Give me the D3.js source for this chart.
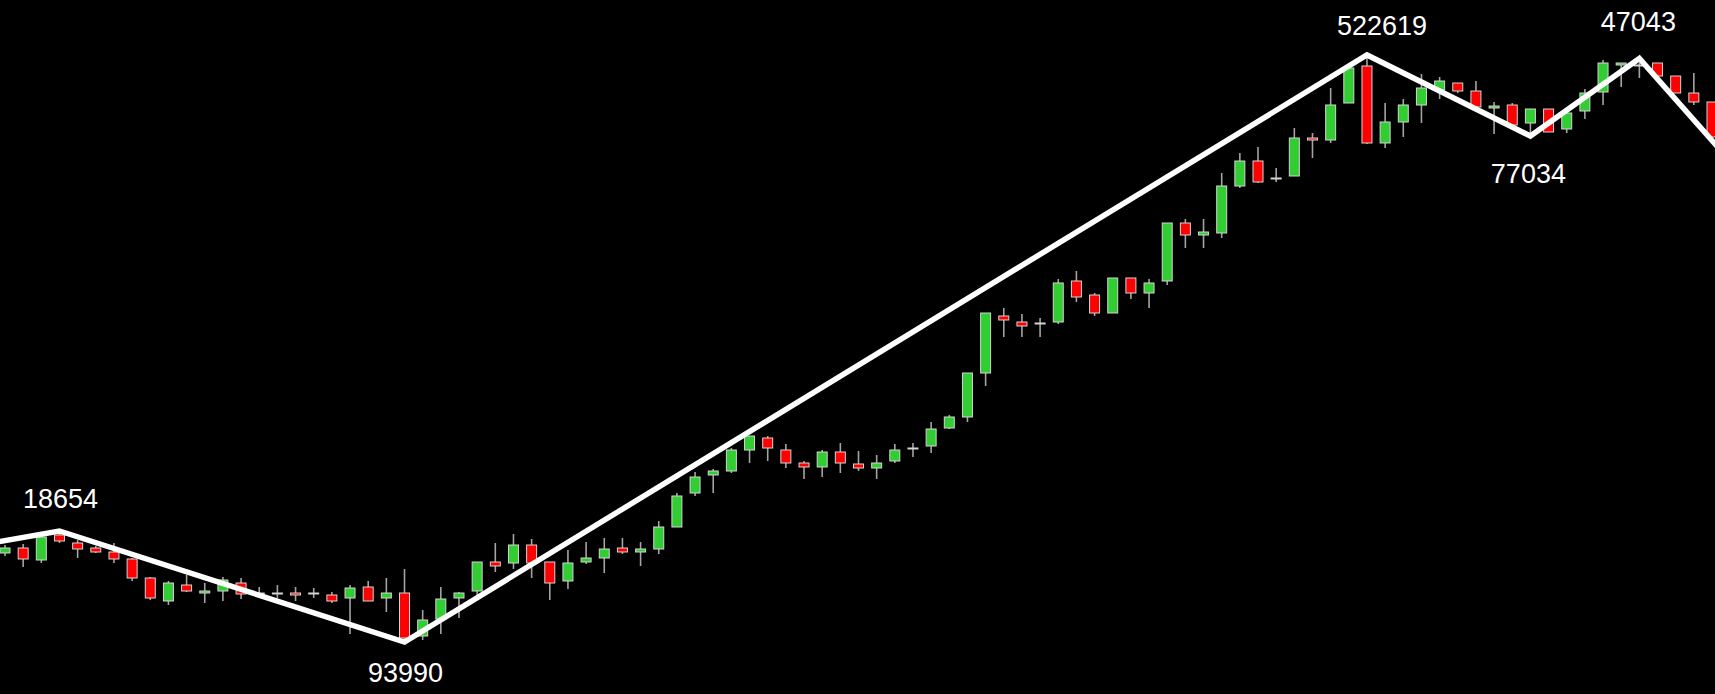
<!DOCTYPE html>
<html><head><meta charset="utf-8">
<script src="https://cdn.jsdelivr.net/npm/d3@7"></script>
<style>html,body{margin:0;padding:0;background:#000;overflow:hidden}</style>
</head><body><svg id="chart" width="1715" height="694"></svg>
<script>
// ---- data (price units) ----
const open  = [141,146,134,159,151,146,142,135,116,93,109,101,103,111,101,101,101,101,99,96,107,96,101,58,75,96,103,132,131,149,132,113,132,136,146,142,145,167,201,219,223,244,256,244,231,227,242,230,226,233,246,248,266,277,321,378,372,371,372,413,399,381,416,401,413,471,459,461,508,533,515,518,556,554,591,628,551,572,589,604,611,603,586,589,571,585,565,583,602,629,629,631,618,601,592];
const close = [146,135,157,153,145,142,135,116,96,111,103,103,114,100,101,101,99,101,93,106,93,101,56,74,95,101,132,128,149,131,111,131,136,145,142,145,167,198,217,223,244,258,246,231,227,242,231,226,231,244,246,265,277,321,381,374,368,371,411,397,381,416,401,411,471,459,462,508,533,512,516,556,554,589,626,551,572,589,606,613,603,587,588,569,585,562,581,601,631,631,629,618,601,592,557];
const high  = [149,150,158,161,154,148,151,136,117,113,119,111,117,116,107,109,107,106,102,109,113,116,125,84,107,102,132,151,160,155,132,144,152,156,156,152,173,201,222,225,246,258,258,250,233,244,251,243,239,250,251,272,279,321,381,386,380,376,415,423,401,416,416,415,471,475,475,521,541,547,526,566,561,606,626,641,591,595,620,617,611,613,592,591,585,585,581,605,634,631,631,631,618,621,592];
const low   = [138,127,131,151,136,141,131,113,94,89,102,91,93,95,97,96,93,96,91,60,93,82,54,54,60,76,97,122,125,116,94,105,130,121,140,128,140,167,198,201,221,231,233,226,215,217,221,223,215,231,237,241,265,272,308,357,357,357,370,392,378,381,395,386,409,446,446,456,506,511,512,518,536,551,591,550,546,557,571,595,601,587,560,567,561,562,561,575,589,607,616,618,601,589,557];

// zigzag pivots (bar index, value, label)
const pivotIndex = [-1, 3, 22, 75, 84, 90, 95];
const pivotValue = [150.2, 163, 52, 639, 558, 635.5, 533];
const pivotLabel = ["", "18654", "93990", "522619", "77034", "47043", ""];

// ---- drawing ----
const W = 1715, H = 694;
const svg = d3.select("#chart");
svg.append("rect").attr("width", W).attr("height", H).attr("fill", "#000");

const x = d3.scaleLinear().domain([0, open.length - 1]).range([5, 1712]);
const y = d3.scaleLinear().domain([0, 694]).range([H, 0]);

const bars = open.map((o, i) => ({i, o, c: close[i], h: high[i], l: low[i]}));
const bodyW = 10;

const g = svg.append("g");
const candle = g.selectAll("g.c").data(bars).join("g").attr("class", "c");

candle.append("line")
  .attr("x1", d => x(d.i)).attr("x2", d => x(d.i))
  .attr("y1", d => y(d.h)).attr("y2", d => y(d.l))
  .attr("stroke", "#a4a4a4").attr("stroke-width", 1.6);

candle.append("rect")
  .attr("x", d => x(d.i) - bodyW / 2)
  .attr("y", d => y(Math.max(d.o, d.c)))
  .attr("width", bodyW)
  .attr("height", d => Math.max(1, Math.abs(y(d.o) - y(d.c))))
  .attr("fill", d => d.c > d.o ? "#32cd32" : (d.c < d.o ? "#ff0000" : "#cfcfcf"))
  .attr("stroke", "#d4d4d4").attr("stroke-width", 1);

const pivots = pivotIndex.map((pi, k) => ({i: pi, v: pivotValue[k], label: pivotLabel[k]}));

svg.append("path")
  .datum(pivots)
  .attr("d", d3.line().x(d => x(d.i)).y(d => y(d.v)))
  .attr("fill", "none")
  .attr("stroke", "#ffffff")
  .attr("stroke-width", 5.5)
  .attr("stroke-linejoin", "miter")
  .attr("stroke-miterlimit", 10);

// label placement: above peaks, below troughs (small per-label nudges)
const nudge = {"18654": [1, -23], "93990": [1, 40], "522619": [15, -20], "77034": [-2, 47], "47043": [-1, -27.5]};
svg.append("g").selectAll("text")
  .data(pivots.filter(d => d.label))
  .join("text")
  .attr("x", d => x(d.i) + nudge[d.label][0])
  .attr("y", d => y(d.v) + nudge[d.label][1])
  .attr("text-anchor", "middle")
  .attr("font-family", "'Liberation Sans', Arial, sans-serif")
  .attr("font-size", 27)
  .attr("fill", "#ffffff")
  .text(d => d.label);
</script>
</body></html>
